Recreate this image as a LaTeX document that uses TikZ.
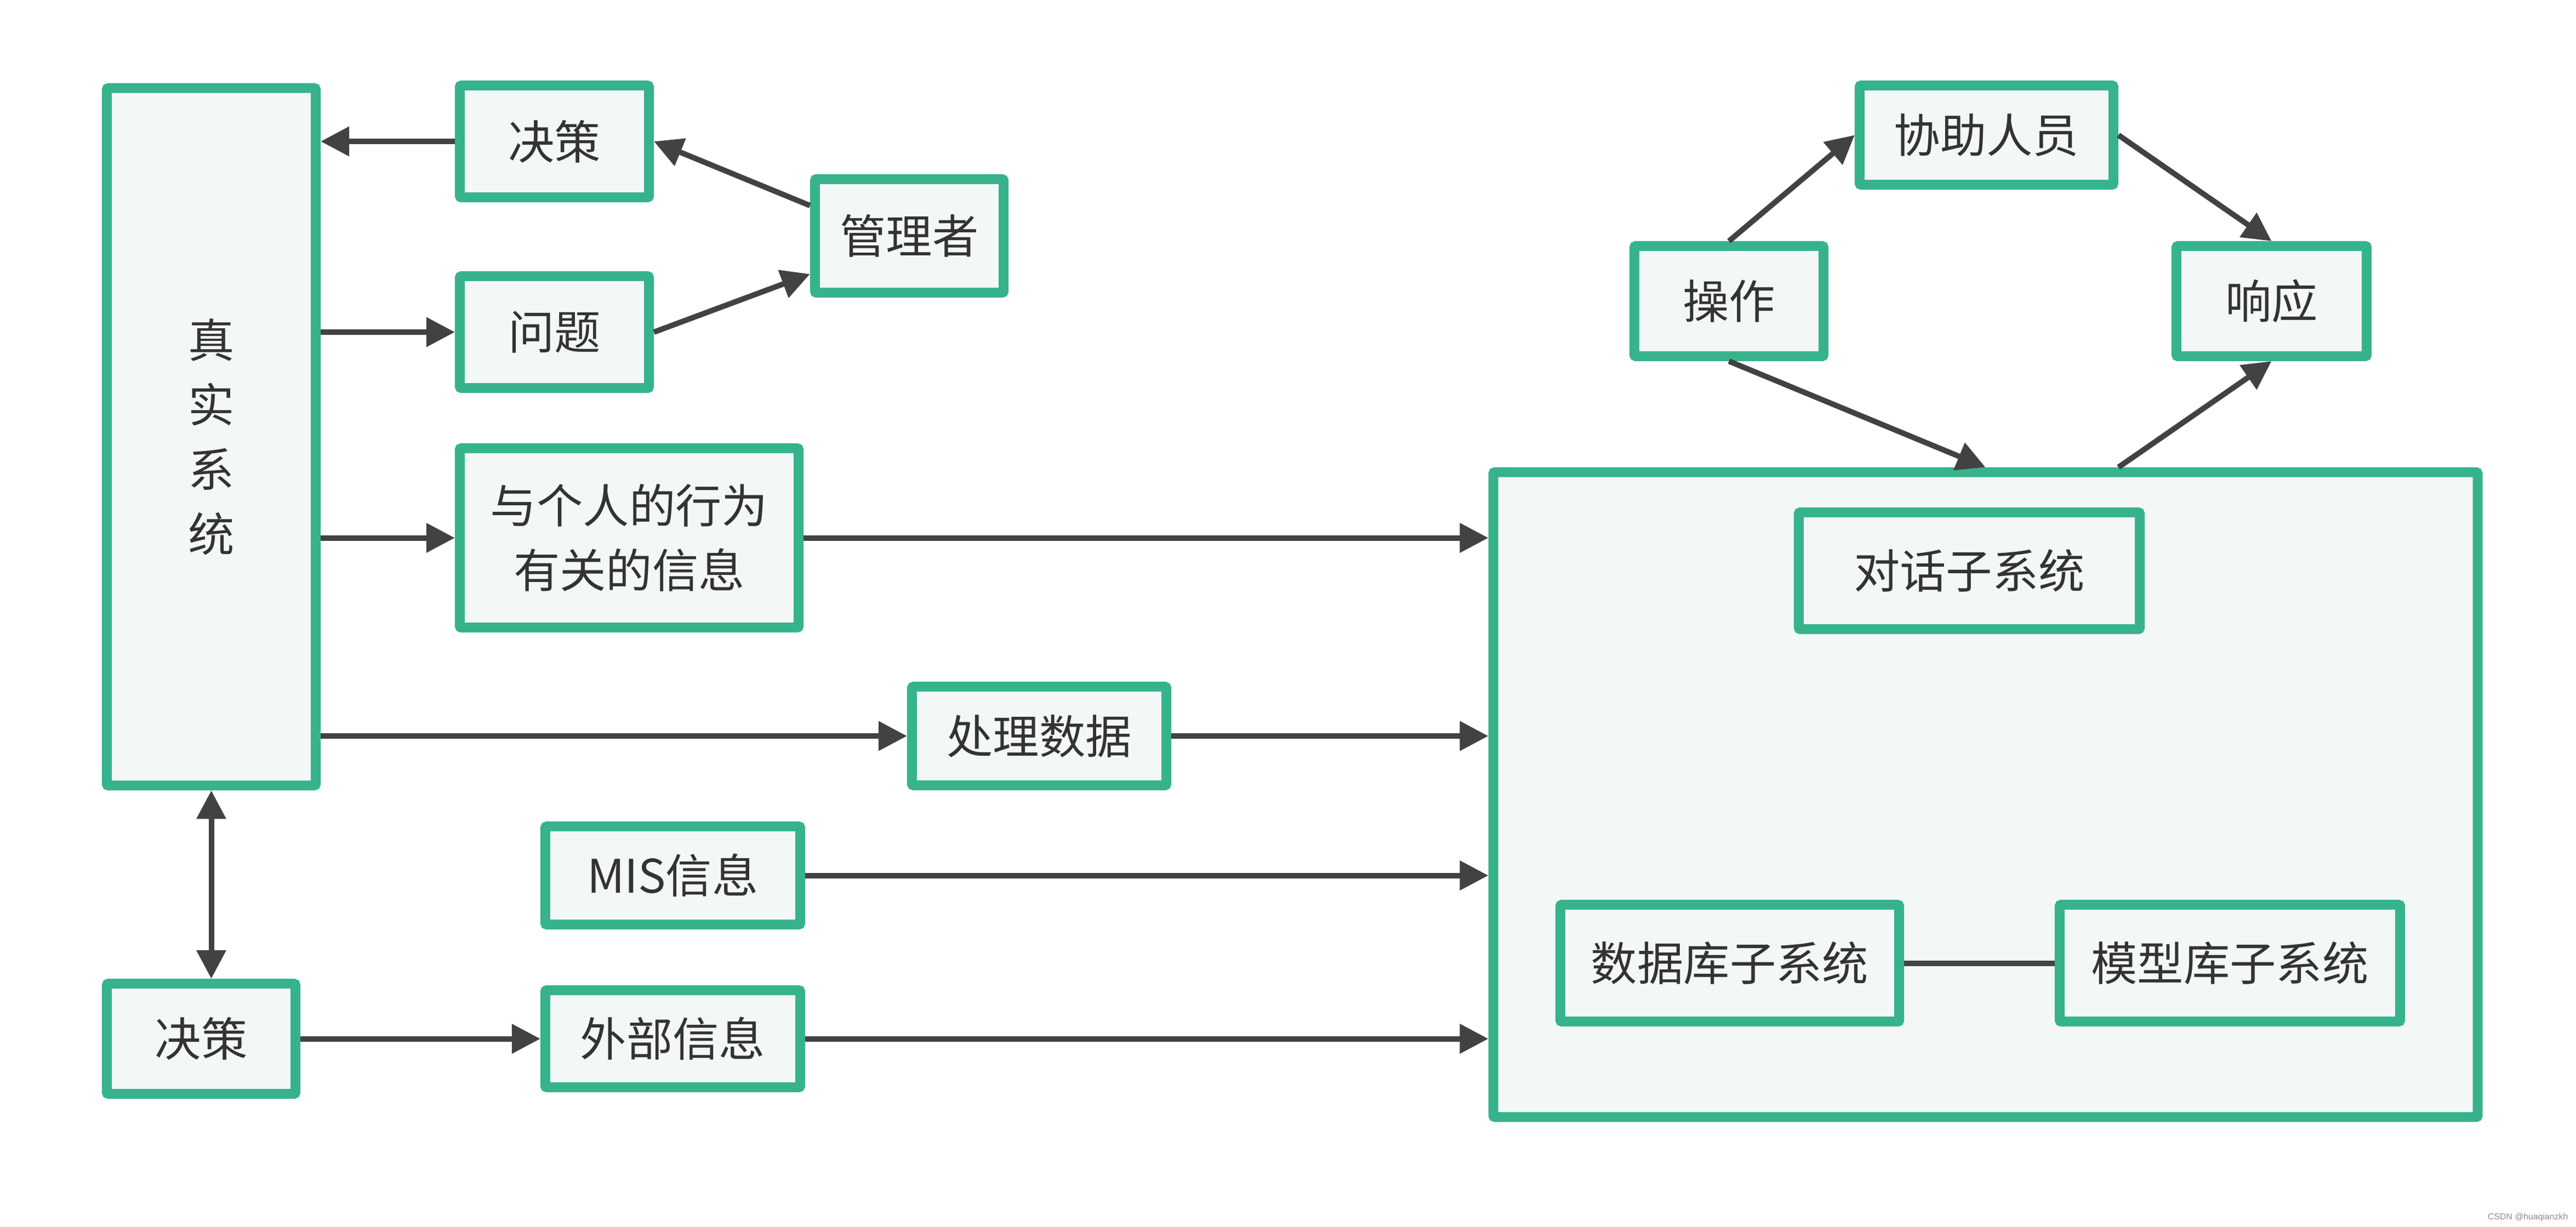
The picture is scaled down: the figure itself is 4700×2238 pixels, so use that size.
\documentclass[tikz,border=0pt]{standalone}
\usepackage{fontspec}
\setmainfont{Noto Sans CJK SC}
\newfontfamily\wmfont{Liberation Sans}
\usetikzlibrary{arrows.meta,calc}
\definecolor{bgreen}{HTML}{36B38D}
\definecolor{bfill}{HTML}{F3F7F5}
\definecolor{arrowc}{HTML}{424242}
\definecolor{txtc}{HTML}{333333}
\begin{document}
\begin{tikzpicture}[x=0.01cm,y=-0.01cm,
  box/.style={draw=bgreen,fill=bfill,line width=0.18cm,rounded corners=0.03cm,
    inner sep=0pt,text=txtc,font=\fontsize{24pt}{33.5pt}\selectfont,align=center},
  conn/.style={draw=arrowc,line width=0.1cm},
  arr/.style={conn,-{Triangle[length=0.52cm,width=0.52cm]}},
  darr/.style={conn,{Triangle[length=0.52cm,width=0.52cm]}-{Triangle[length=0.52cm,width=0.52cm]}}]
\useasboundingbox (0,0) rectangle (4700,2238);
\fill[white] (0,0) rectangle (4700,2238);
% big container
\node[box,minimum width=17.95cm,minimum height=11.76cm] (big) at (3622.5,1450) {};
% left
\node[box,minimum width=3.81cm,minimum height=12.72cm] (real) at (385.5,797)
  {\fontsize{24pt}{34pt}\selectfont 真\\实\\系\\统};
\node[box,minimum width=3.45cm,minimum height=2.04cm] (dec1) at (1011.5,258) {决策};
\node[box,minimum width=3.45cm,minimum height=2.04cm] (prob) at (1011.5,606) {问题};
\node[box,minimum width=3.44cm,minimum height=2.07cm] (mgr) at (1659,430.5) {管理者};
\node[box,minimum width=6.18cm,minimum height=3.27cm] (info) at (1148,981.5) {与个人的行为\\有关的信息};
\node[box,minimum width=4.64cm,minimum height=1.80cm] (proc) at (1896,1343) {处理数据};
\node[box,minimum width=4.65cm,minimum height=1.79cm] (mis) at (1227.5,1597.5) {MIS信息};
\node[box,minimum width=3.44cm,minimum height=2.01cm] (dec2) at (367,1895.5) {决策};
\node[box,minimum width=4.65cm,minimum height=1.77cm] (ext) at (1227.5,1895.5) {外部信息};
% right
\node[box,minimum width=6.22cm,minimum height=2.13cm] (dlg) at (3593,1041.5) {对话子系统};
\node[box,minimum width=6.18cm,minimum height=2.13cm] (db) at (3156,1757.5) {数据库子系统};
\node[box,minimum width=6.21cm,minimum height=2.13cm] (mdl) at (4068.5,1757.5) {模型库子系统};
\node[box,minimum width=3.45cm,minimum height=2.01cm] (op) at (3154.5,549.5) {操作};
\node[box,minimum width=4.63cm,minimum height=1.81cm] (help) at (3624.5,246.5) {协助人员};
\node[box,minimum width=3.47cm,minimum height=2.01cm] (resp) at (4144.5,549.5) {响应};
% watermark
\node[font=\wmfont\fontsize{4.5pt}{6pt}\selectfont,text=black!45,anchor=east,inner sep=0pt] (wm) at (4686,2221) {CSDN @huaqianzkh};
% connectors
\draw[arr] (dec1.west) -- (dec1.west -| real.east);
\draw[arr] (mgr.163) -- (dec1.east);
\draw[arr] (prob.east) -- (mgr.201);
\draw[arr] (real.east |- prob.west) -- (prob.west);
\draw[arr] (real.east |- info.west) -- (info.west);
\draw[arr] (info.east) -- (info.east -| big.west);
\draw[arr] (real.east |- proc.west) -- (proc.west);
\draw[arr] (proc.east) -- (proc.east -| big.west);
\draw[arr] (mis.east) -- (mis.east -| big.west);
\draw[arr] (ext.east) -- (ext.east -| big.west);
\draw[arr] (dec2.east) -- (ext.west);
\draw[darr] (real.south) -- (real.south |- dec2.north);
\draw[conn] (db.east) -- (mdl.west);
\draw[arr] (op.north) -- (help.west);
\draw[arr] (help.east) -- (resp.north);
\draw[arr] (op.south) -- (big.north);
\draw[arr] (help.east |- big.north) -- (resp.south);
\end{tikzpicture}
\end{document}
